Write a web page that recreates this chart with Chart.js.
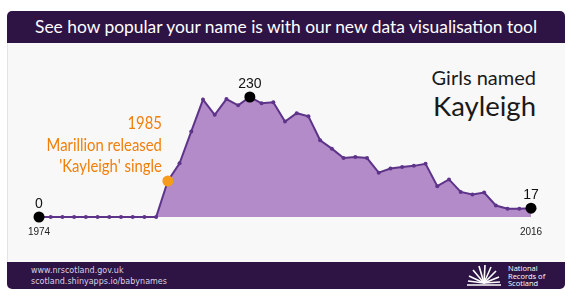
<!DOCTYPE html>
<html>
<head>
<meta charset="utf-8">
<script src="https://cdn.jsdelivr.net/npm/chart.js@4.4.0/dist/chart.umd.min.js"></script>
<style>
  html, body { margin: 0; padding: 0; background: #fff; }
  body { width: 580px; height: 297px; position: relative; overflow: hidden; font-family: Lato, sans-serif; }
  #header {
    position: absolute; left: 7px; top: 11px; width: 558px; height: 32px;
    background: #2e1445; border-radius: 5px 5px 0 0; color: #fff;
    font-size: 17.4px; line-height: 32px; text-align: center;
  }
  #panel {
    position: absolute; left: 7px; top: 43px; width: 557px; height: 219px;
    background: #f8f8f9; border-left: 1px solid #e4e4e4;
  }
  #footer {
    position: absolute; left: 7px; top: 262px; width: 558px; height: 27px;
    background: #2e1445; border-radius: 0 0 5px 5px;
  }
  #links { position: absolute; left: 24px; top: 3px; color: #d8d0e0; font-family: "DejaVu Sans", sans-serif; font-size: 8px; line-height: 11px; }
  #logo { position: absolute; left: 457px; top: 2px; }
  #nrs { position: absolute; left: 501px; top: 3px; color: #fff; font-family: "Open Sans", sans-serif; font-size: 7.5px; line-height: 7.5px; }
  #title { position: absolute; right: 44px; top: 65px; text-align: right; color: #1a1a1a; }
  #title .a { font-size: 20px; line-height: 25px; }
  #title .b { font-size: 27.5px; line-height: 32px; }
  canvas { position: absolute; left: 0; top: 0; }
</style>
</head>
<body>
<div id="header">See how popular your name is with our new data visualisation tool</div>
<div id="panel"></div>
<div id="footer">
  <div id="links">www.nrscotland.gov.uk<br>scotland.shinyapps.io/babynames</div>
  <svg id="logo" width="40" height="24" viewBox="0 0 40 24">
    <g stroke="#fff" stroke-width="1.6" fill="none">
      <line x1="20" y1="19" x2="4" y2="17"/>
      <line x1="20" y1="19" x2="5" y2="12"/>
      <line x1="20" y1="19" x2="9" y2="6"/>
      <line x1="20" y1="19" x2="15" y2="2"/>
      <line x1="20" y1="19" x2="21" y2="1"/>
      <line x1="20" y1="19" x2="27" y2="3"/>
      <line x1="20" y1="19" x2="32" y2="7"/>
      <line x1="20" y1="19" x2="35" y2="13"/>
      <line x1="20" y1="19" x2="36" y2="18"/>
      <line x1="3" y1="21" x2="37" y2="21"/>
    </g>
  </svg>
  <div id="nrs">National<br>Records of<br>Scotland</div>
</div>
<div id="title"><div class="a">Girls named</div><div class="b">Kayleigh</div></div>
<canvas id="chart" width="580" height="297"></canvas>
<script>
const years = [];
for (let y = 1974; y <= 2016; y++) years.push(String(y));

// girls named Kayleigh per year
const counts = [
  0, 0, 0, 0, 0, 0, 0, 0, 0, 0, 0,
  69, 103, 164, 225, 196, 226, 214, 230, 218, 220,
  183, 199, 193, 147, 131, 113, 115, 113, 85, 93,
  96, 98, 102, 59, 72, 48, 43, 47, 22, 16, 16, 17
];

const highlightYears = ["1974", "1992", "2016"];
const releaseYear = "1985";
const releaseNote = ["1985", "Marillion released", "'Kayleigh' single"];

const labelPlugin = {
  id: "labels",
  afterDatasetsDraw(chart) {
    const ctx = chart.ctx;
    const meta = chart.getDatasetMeta(0);
    ctx.save();
    ctx.textAlign = "center";
    ctx.textBaseline = "middle";
    highlightYears.forEach(yr => {
      const i = years.indexOf(yr);
      const pt = meta.data[i];
      ctx.fillStyle = "#111";
      ctx.font = "14px 'Liberation Sans', Arial, sans-serif";
      ctx.fillText(String(counts[i]), pt.x, pt.y - 13);
      if (i === 0 || i === years.length - 1) {
        ctx.font = "10px 'Liberation Sans', Arial, sans-serif";
        ctx.fillStyle = "#222";
        ctx.fillText(yr, pt.x, chart.chartArea.bottom + 15.5);
      }
    });
    // orange note, squeezed a little to match the narrow face
    const r = meta.data[years.indexOf(releaseYear)];
    const sx = 0.9;
    ctx.translate(r.x - 6, r.y);
    ctx.scale(sx, 1);
    ctx.textAlign = "right";
    ctx.fillStyle = "#f07f0a";
    ctx.font = "16.5px Lato, sans-serif";
    const offs = [-57, -35, -14];
    releaseNote.forEach((t, k) => ctx.fillText(t, 0, offs[k]));
    ctx.restore();
  }
};

new Chart(document.getElementById("chart").getContext("2d"), {
  type: "line",
  data: {
    labels: years,
    datasets: [{
      data: counts,
      borderColor: "#5d3489",
      borderWidth: 2,
      backgroundColor: "#b38bc8",
      fill: "origin",
      tension: 0,
      clip: false,
      pointRadius: c => {
        const yr = years[c.dataIndex];
        return (highlightYears.includes(yr) || yr === releaseYear) ? 5.5 : 2;
      },
      pointBackgroundColor: c => {
        const yr = years[c.dataIndex];
        if (yr === releaseYear) return "#f59c1a";
        return highlightYears.includes(yr) ? "#000" : "#5d3489";
      },
      pointBorderWidth: 0
    }]
  },
  options: {
    responsive: false,
    animation: false,
    layout: { padding: { left: 39, right: 49, top: 97, bottom: 80 } },
    plugins: { legend: { display: false }, tooltip: { enabled: false } },
    scales: {
      x: { display: false, offset: false },
      y: { display: false, min: 0, max: 230 }
    }
  },
  plugins: [labelPlugin]
});
</script>
</body>
</html>
